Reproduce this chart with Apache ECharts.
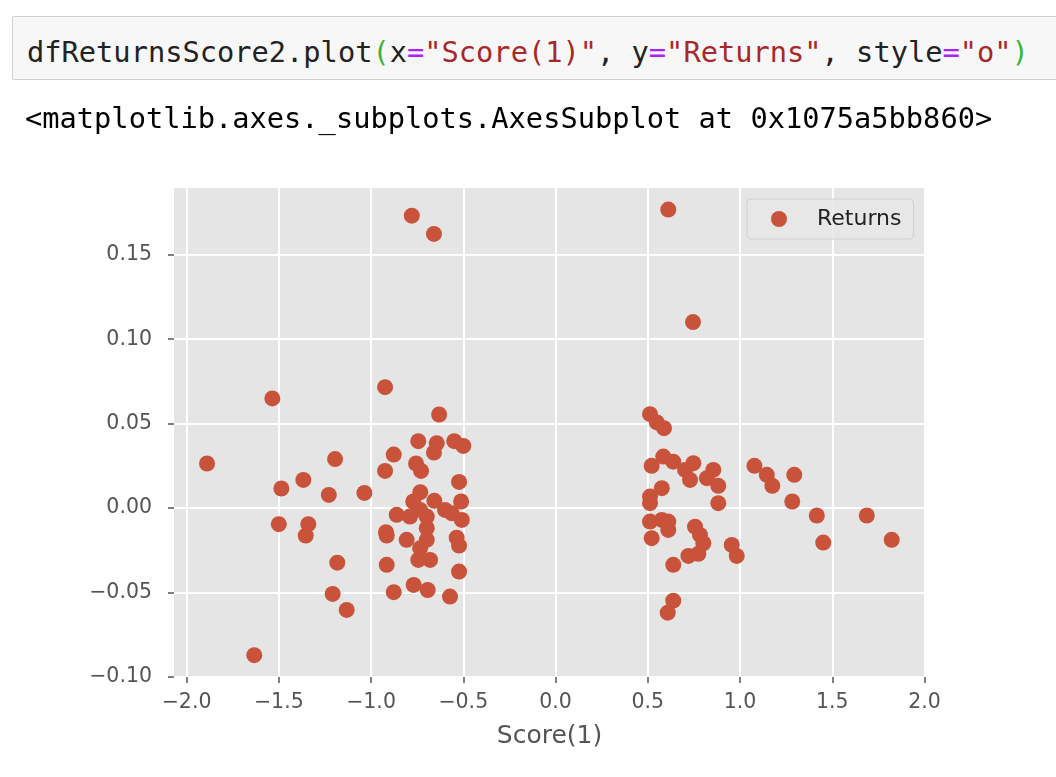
<!DOCTYPE html>
<html>
<head>
<meta charset="utf-8">
<script src="https://cdn.jsdelivr.net/npm/echarts@6/dist/echarts.min.js"></script>
<style>
  html, body { margin: 0; padding: 0; background: #ffffff; width: 1056px; height: 777px; overflow: hidden; }
  #chart { position: absolute; left: 0; top: 0; width: 1056px; height: 777px; }
  .cell { position: absolute; left: 12px; top: 16px; width: 1060px; height: 64px; background: #F7F7F7;
          border: 1px solid #CFCFCF; border-radius: 2px; box-sizing: border-box; z-index: 2; }
  .mono { font-family: "DejaVu Sans Mono", "Liberation Mono", monospace; font-size: 28.7px; white-space: pre; position: absolute; z-index: 3; line-height: 34px; }
  #code { left: 27px; top: 35px; color: #222; }
  #out { left: 25px; top: 101px; color: #000; }
  .p { color: #3CB43C; } .o { color: #AA22FF; } .s { color: #A82828; }
</style>
</head>
<body>
<div class="cell"></div>
<div id="code" class="mono">dfReturnsScore2.plot<span class="p">(</span>x<span class="o">=</span><span class="s">"Score(1)"</span>, y<span class="o">=</span><span class="s">"Returns"</span>, style<span class="o">=</span><span class="s">"o"</span><span class="p">)</span></div>
<div id="out" class="mono">&lt;matplotlib.axes._subplots.AxesSubplot at 0x1075a5bb860&gt;</div>
<div id="chart"></div>
<script>
// Score(1) values
const scoreX = [
  -0.779, -0.659, -1.535, -0.924, -0.631, -1.889, -0.744, -0.644, -0.659, -0.549,
  -0.500, -0.877, -1.195, -0.756, -0.729, -0.924, -1.367, -1.486, -1.229, -1.036,
  -0.523, -0.733, -0.657, -0.512, -0.771, -0.861, -0.734, -0.789, -0.698, -0.698,
  -0.698, -0.807, -0.734, -0.744, -0.680, -0.599, -0.563, -0.508, -1.500, -1.340,
  -1.354, -0.919, -0.915, -0.536, -0.523, -1.183, -0.915, -0.523, -0.769, -0.693,
  -0.877, -1.208, -0.572, -1.132, -1.633,
  0.611, 0.745, 0.512, 0.549, 0.588, 0.584, 0.638, 0.521, 0.747, 0.702,
  0.855, 0.729, 0.820, 0.882, 0.576, 1.078, 1.145, 1.175, 1.294, 0.512,
  0.512, 0.882, 1.283, 1.416, 1.687, 1.451, 1.822, 0.512, 0.576, 0.611,
  0.611, 0.521, 0.756, 0.783, 0.801, 0.720, 0.774, 0.955, 0.982, 0.638,
  0.638, 0.608
];
// Returns values
const returnsY = [
  0.1731, 0.1623, 0.0649, 0.0716, 0.0554, 0.0264, 0.0396, 0.0384, 0.0329, 0.0396,
  0.0368, 0.0317, 0.0290, 0.0264, 0.0220, 0.0220, 0.0167, 0.0116, 0.0078, 0.0090,
  0.0155, 0.0094, 0.0043, 0.0039, 0.0039, -0.0040, -0.0011, -0.0050, -0.0050, -0.0119,
  -0.0188, -0.0188, -0.0238, -0.0307, -0.0307, -0.0011, -0.0030, -0.0070, -0.0095, -0.0095,
  -0.0163, -0.0143, -0.0163, -0.0175, -0.0222, -0.0323, -0.0336, -0.0376, -0.0455, -0.0485,
  -0.0498, -0.0508, -0.0524, -0.0603, -0.0871,
  0.1767, 0.1101, 0.0556, 0.0507, 0.0473, 0.0305, 0.0275, 0.0250, 0.0266, 0.0226,
  0.0226, 0.0167, 0.0177, 0.0132, 0.0118, 0.0250, 0.0197, 0.0132, 0.0197, 0.0068,
  0.0029, 0.0029, 0.0039, -0.0044, -0.0044, -0.0204, -0.0188, -0.0080, -0.0070, -0.0080,
  -0.0129, -0.0178, -0.0110, -0.0159, -0.0208, -0.0283, -0.0271, -0.0218, -0.0283, -0.0336,
  -0.0548, -0.0619
];
const xTicks = [-2.0, -1.5, -1.0, -0.5, 0.0, 0.5, 1.0, 1.5, 2.0];
const yTicks = [-0.10, -0.05, 0.00, 0.05, 0.10, 0.15];
const seriesName = 'Returns';
const xName = 'Score(1)';

const points = scoreX.map((x, i) => [x, returnsY[i]]);
const fmt = (v, d) => (v < -1e-9 ? '\u2212' : '') + Math.abs(v).toFixed(d);
const tickColor = '#555555';
const fontFam = '"DejaVu Sans", "Liberation Sans", sans-serif';

const chart = echarts.init(document.getElementById('chart'), null, { renderer: 'canvas' });
chart.setOption({
  animation: false,
  backgroundColor: 'transparent',
  grid: { left: 174, right: 131, top: 188, bottom: 100, show: true, backgroundColor: '#E5E5E5', borderWidth: 0 },
  legend: {
    left: 747, top: 199,
    data: [seriesName],
    backgroundColor: 'rgba(232,232,232,0.85)',
    borderColor: '#CFCFCF', borderWidth: 1, borderRadius: 4,
    padding: [9, 12, 9, 24],
    itemWidth: 16, itemHeight: 16,
    textStyle: { fontSize: 22, color: '#222222', fontFamily: fontFam, padding: [0, 0, 0, 25], lineHeight: 22 }
  },
  xAxis: {
    type: 'value', min: -2.068, max: 2.0025,
    name: xName, nameLocation: 'middle', nameGap: 47,
    nameTextStyle: { fontSize: 25, color: tickColor, fontFamily: fontFam },
    axisLine: { show: false, onZero: false },
    axisTick: { show: true, length: 6, lineStyle: { color: tickColor, width: 1.5 }, customValues: xTicks },
    axisLabel: { margin: 15, fontSize: 20.5, color: tickColor, fontFamily: fontFam, customValues: xTicks, formatter: v => fmt(v, 1) },
    splitLine: { show: true, lineStyle: { color: '#FFFFFF', width: 2 } }
  },
  yAxis: {
    type: 'value', min: -0.1, max: 0.1895,
    axisLine: { show: false, onZero: false },
    axisTick: { show: true, length: 6, lineStyle: { color: tickColor, width: 1.5 }, customValues: yTicks },
    axisLabel: { margin: 22, fontSize: 20.5, color: tickColor, fontFamily: fontFam, customValues: yTicks, formatter: v => fmt(v, 2) },
    splitLine: { show: true, lineStyle: { color: '#FFFFFF', width: 2 } }
  },
  series: [{
    name: seriesName,
    type: 'scatter',
    symbol: 'circle',
    symbolSize: 16,
    itemStyle: { color: '#C9523A', opacity: 1 },
    data: points
  }]
});
</script>
</body>
</html>
